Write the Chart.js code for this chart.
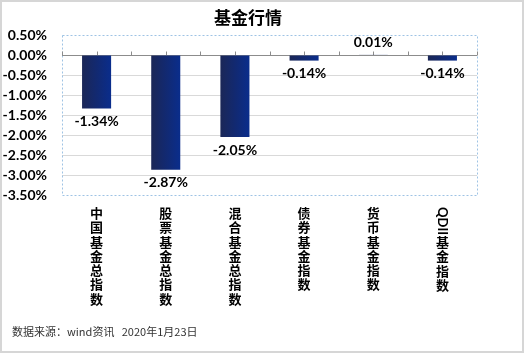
<!DOCTYPE html>
<html><head><meta charset="utf-8">
<script src="https://cdn.jsdelivr.net/npm/chart.js@4/dist/chart.umd.min.js"></script>
<style>html,body{margin:0;padding:0;background:#fff;}#wrap{width:525px;height:354px;}</style>
</head><body><div id="wrap"><canvas id="c" width="525" height="354"></canvas></div>
<script>
const categories = ["中国基金总指数","股票基金总指数","混合基金总指数","债券基金指数","货币基金指数","QDII基金指数"];
const values = [-1.34, -2.87, -2.05, -0.14, 0.01, -0.14];
const valueLabels = ["-1.34%","-2.87%","-2.05%","-0.14%","0.01%","-0.14%"];
const yTicks = [0.5, 0, -0.5, -1, -1.5, -2, -2.5, -3, -3.5];
const titleText = "基金行情";
const sourceText = "数据来源：wind资讯   2020年1月23日";

const CJK = '"Noto Sans CJK SC", "Noto Sans", sans-serif';
const LAT = 'Lato, "Open Sans", "Liberation Sans", sans-serif';
const BARPCT = 0.42;

function barGradient(c) {
  const chart = c.chart;
  const xs = chart.scales && chart.scales.x;
  if (!chart.chartArea || !xs || c.dataIndex === undefined) return '#0f2a78';
  const cx = xs.getPixelForValue(c.dataIndex);
  const cw = (xs.right - xs.left) / categories.length;
  const hw = cw * BARPCT / 2;
  const g = chart.ctx.createLinearGradient(cx - hw, 0, cx + hw, 0);
  g.addColorStop(0, '#1b2757');
  g.addColorStop(0.45, '#13296e');
  g.addColorStop(1, '#0a2d8c');
  return g;
}

const decor = {
  id: 'decor',
  beforeDraw(chart) {
    const ctx = chart.ctx;
    ctx.save();
    ctx.fillStyle = '#fff';
    ctx.fillRect(0, 0, chart.width, chart.height);
    ctx.restore();
  },
  beforeDatasetsDraw(chart) {
    const ctx = chart.ctx, a = chart.chartArea;
    const xs = chart.scales.x, ys = chart.scales.y;
    ctx.save();
    ctx.strokeStyle = '#9ec3e4';
    ctx.lineWidth = 1;
    ctx.setLineDash([2, 2]);
    ctx.strokeRect(Math.round(a.left) + 0.5, Math.round(a.top) + 0.5, Math.round(a.right - a.left), Math.round(a.bottom - a.top));
    ctx.setLineDash([]);
    const y0 = Math.round(ys.getPixelForValue(0)) + 0.5;
    ctx.strokeStyle = '#8c8c8c';
    ctx.beginPath();
    ctx.moveTo(a.left, y0); ctx.lineTo(a.right, y0);
    const n = categories.length;
    for (let i = 0; i <= 2 * n; i++) {
      const x = Math.round(xs.getPixelForValue(i / 2 - 0.5)) + 0.5;
      ctx.moveTo(x, y0); ctx.lineTo(x, y0 - 4);
    }
    ctx.stroke();
    ctx.restore();
  },
  afterDraw(chart) {
    const ctx = chart.ctx, a = chart.chartArea;
    const xs = chart.scales.x, ys = chart.scales.y;
    const meta = chart.getDatasetMeta(0);
    ctx.save();
    ctx.fillStyle = '#000';
    ctx.font = 'bold 14px ' + LAT;
    ctx.textAlign = 'center';
    ctx.textBaseline = 'middle';
    meta.data.forEach((bar, i) => {
      const v = values[i];
      const yEnd = ys.getPixelForValue(v);
      const y = v >= 0 ? yEnd - 12 : yEnd + 13;
      ctx.fillText(valueLabels[i], xs.getPixelForValue(i), y);
    });
    const step = 14.3;
    categories.forEach((lab, i) => {
      const cx = xs.getPixelForValue(i);
      let y = a.bottom + 12;
      const parts = lab.match(/[A-Za-z0-9]+|./g);
      parts.forEach(p => {
        if (/^[A-Za-z0-9]+$/.test(p)) {
          ctx.font = 'bold 13px ' + LAT;
          const w = ctx.measureText(p).width;
          ctx.save();
          ctx.translate(cx, y + w / 2);
          ctx.rotate(Math.PI / 2);
          ctx.textAlign = 'center';
          ctx.textBaseline = 'middle';
          ctx.fillText(p, 0, 0);
          ctx.restore();
          y += w + 1;
        } else {
          ctx.font = 'bold 13px ' + CJK;
          ctx.textAlign = 'center';
          ctx.textBaseline = 'middle';
          ctx.fillText(p, cx, y + 6);
          y += step;
        }
      });
    });
    ctx.font = 'bold 17px ' + CJK;
    ctx.textAlign = 'center';
    ctx.textBaseline = 'middle';
    ctx.fillStyle = '#000';
    ctx.fillText(titleText, 248, 18);
    ctx.font = '11px ' + CJK;
    ctx.textAlign = 'left';
    ctx.fillStyle = '#333';
    ctx.fillText(sourceText, 12, 332);
    ctx.strokeStyle = '#d6d6d6';
    ctx.lineWidth = 2;
    ctx.strokeRect(1, 1, chart.width - 3, chart.height - 3);
    ctx.restore();
  }
};

new Chart(document.getElementById('c'), {
  type: 'bar',
  data: {
    labels: categories,
    datasets: [{
      data: values,
      backgroundColor: barGradient,
      borderWidth: 0,
      categoryPercentage: 1,
      barPercentage: BARPCT
    }]
  },
  options: {
    responsive: false,
    animation: false,
    devicePixelRatio: 1,
    layout: { padding: { top: 35, right: 48, bottom: 0, left: 0 } },
    plugins: { legend: { display: false }, tooltip: { enabled: false }, title: { display: false } },
    scales: {
      x: {
        grid: { display: false, drawTicks: false },
        border: { display: false },
        ticks: { display: false },
        afterFit(s) { s.height = 159; }
      },
      y: {
        min: -3.5, max: 0.5,
        afterFit(s) { s.width = 62; },
        afterBuildTicks(s) { s.ticks = yTicks.map(v => ({ value: v })); },
        border: { display: false },
        grid: {
          drawTicks: false,
          color: c => (c.tick && (c.tick.value === 0 || c.tick.value === 0.5 || c.tick.value === -3.5)) ? 'rgba(0,0,0,0)' : '#d9d9d9',
          lineWidth: 1
        },
        ticks: {
          padding: 15,
          color: '#000',
          font: { family: LAT, weight: 'bold', size: 14 },
          callback: v => v.toFixed(2) + '%'
        }
      }
    }
  },
  plugins: [decor]
});
</script>
</body></html>
